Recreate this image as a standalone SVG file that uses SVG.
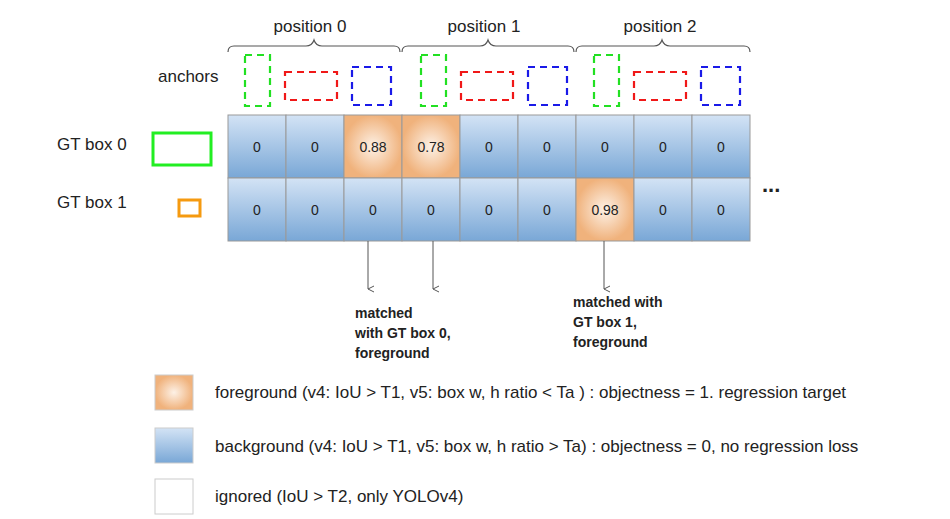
<svg xmlns="http://www.w3.org/2000/svg" width="950" height="519" viewBox="0 0 950 519">
<defs>
<linearGradient id="bg" x1="0" y1="0" x2="0" y2="1"><stop offset="0" stop-color="#d3e3f5"/><stop offset="1" stop-color="#79a7d6"/></linearGradient>
<radialGradient id="fg"><stop offset="0" stop-color="#fdf1e6"/><stop offset="1" stop-color="#f0b27c"/></radialGradient>
<marker id="ar" markerWidth="8" markerHeight="8" refX="4" refY="7" orient="auto" markerUnits="userSpaceOnUse"><path d="M1,1 L4,7 L7,1" fill="none" stroke="#555" stroke-width="1"/></marker>
</defs>
<style>
text{font-family:"Liberation Sans",Arial,sans-serif;fill:#222}
.t{font-size:17px}
.c{font-size:14px;text-anchor:middle}
.b{font-size:14px;font-weight:bold}
.cell{stroke:#999;stroke-width:1}
.bl{fill:url(#bg)}.or{fill:url(#fg)}
.br{fill:none;stroke:#555;stroke-width:1.2}
.a{fill:none;stroke-width:2.2;stroke-dasharray:7,5}
</style>
<g id="labels">
<text class="t" x="310" y="32" text-anchor="middle">position 0</text>
<text class="t" x="484" y="32" text-anchor="middle">position 1</text>
<text class="t" x="660" y="32" text-anchor="middle">position 2</text>
<text class="t" x="158" y="82">anchors</text>
<text class="t" x="57" y="150">GT box 0</text>
<text class="t" x="57" y="208">GT box 1</text>
<text x="762" y="192" font-size="22" font-weight="bold">...</text>
</g>
<g id="braces">
<path class="br" d="M228,52 Q228,46 234,46 L306,46 Q312,46 314,40 Q316,46 322,46 L394,46 Q400,46 400,52"/>
<path class="br" d="M402,52 Q402,46 408,46 L480,46 Q486,46 488,40 Q490,46 496,46 L568,46 Q574,46 574,52"/>
<path class="br" d="M576,52 Q576,46 582,46 L654,46 Q660,46 662,40 Q664,46 670,46 L744,46 Q750,46 750,52"/>
</g>
<g id="anchors">
<g><rect class="a" x="245" y="55" width="25" height="51" stroke="#22e022"/><rect class="a" x="285" y="72" width="52" height="28" stroke="#f01818"/><rect class="a" x="352" y="67" width="39" height="38" stroke="#1a1ae8"/></g>
<g transform="translate(176,0)"><rect class="a" x="245" y="55" width="25" height="51" stroke="#22e022"/><rect class="a" x="285" y="72" width="52" height="28" stroke="#f01818"/><rect class="a" x="352" y="67" width="39" height="38" stroke="#1a1ae8"/></g>
<g transform="translate(349,0)"><rect class="a" x="245" y="55" width="25" height="51" stroke="#22e022"/><rect class="a" x="285" y="72" width="52" height="28" stroke="#f01818"/><rect class="a" x="352" y="67" width="39" height="38" stroke="#1a1ae8"/></g>
</g>
<g id="gtboxes">
<rect x="153" y="133" width="58" height="32" fill="none" stroke="#22ee22" stroke-width="3"/>
<rect x="179" y="200" width="21" height="16" fill="none" stroke="#f59a10" stroke-width="3"/>
</g>
<g id="grid">
<rect class="cell bl" x="228" y="115" width="58" height="63"/><text class="c" x="257" y="152">0</text>
<rect class="cell bl" x="286" y="115" width="58" height="63"/><text class="c" x="315" y="152">0</text>
<rect class="cell or" x="344" y="115" width="58" height="63"/><text class="c" x="373" y="152">0.88</text>
<rect class="cell or" x="402" y="115" width="58" height="63"/><text class="c" x="431" y="152">0.78</text>
<rect class="cell bl" x="460" y="115" width="58" height="63"/><text class="c" x="489" y="152">0</text>
<rect class="cell bl" x="518" y="115" width="58" height="63"/><text class="c" x="547" y="152">0</text>
<rect class="cell bl" x="576" y="115" width="58" height="63"/><text class="c" x="605" y="152">0</text>
<rect class="cell bl" x="634" y="115" width="58" height="63"/><text class="c" x="663" y="152">0</text>
<rect class="cell bl" x="692" y="115" width="58" height="63"/><text class="c" x="721" y="152">0</text>
<rect class="cell bl" x="228" y="178" width="58" height="63"/><text class="c" x="257" y="215">0</text>
<rect class="cell bl" x="286" y="178" width="58" height="63"/><text class="c" x="315" y="215">0</text>
<rect class="cell bl" x="344" y="178" width="58" height="63"/><text class="c" x="373" y="215">0</text>
<rect class="cell bl" x="402" y="178" width="58" height="63"/><text class="c" x="431" y="215">0</text>
<rect class="cell bl" x="460" y="178" width="58" height="63"/><text class="c" x="489" y="215">0</text>
<rect class="cell bl" x="518" y="178" width="58" height="63"/><text class="c" x="547" y="215">0</text>
<rect class="cell or" x="576" y="178" width="58" height="63"/><text class="c" x="605" y="215">0.98</text>
<rect class="cell bl" x="634" y="178" width="58" height="63"/><text class="c" x="663" y="215">0</text>
<rect class="cell bl" x="692" y="178" width="58" height="63"/><text class="c" x="721" y="215">0</text>
</g>
<g id="connectors" stroke="#555" stroke-width="1">
<line x1="368" y1="241" x2="368" y2="289" marker-end="url(#ar)"/>
<line x1="433" y1="241" x2="433" y2="289" marker-end="url(#ar)"/>
<line x1="604" y1="241" x2="604" y2="289" marker-end="url(#ar)"/>
</g>
<g id="notes">
<text class="b" x="355" y="318">matched</text>
<text class="b" x="355" y="338">with GT box 0,</text>
<text class="b" x="355" y="358">foreground</text>
<text class="b" x="573" y="307">matched with</text>
<text class="b" x="573" y="327">GT box 1,</text>
<text class="b" x="573" y="347">foreground</text>
</g>
<g id="legend">
<rect x="155" y="375" width="38" height="35" fill="url(#fg)" stroke="#ccc"/>
<text class="t" x="215" y="398">foreground (v4: IoU &gt; T1, v5: box w, h ratio &lt; Ta ) : objectness = 1. regression target</text>
<rect x="155" y="428" width="38" height="35" fill="url(#bg)" stroke="#ccc"/>
<text class="t" x="215" y="452">background (v4: IoU &gt; T1, v5: box w, h ratio &gt; Ta)  : objectness = 0, no regression loss</text>
<rect x="155" y="479" width="38" height="35" fill="#fff" stroke="#ccc"/>
<text class="t" x="215" y="502">ignored (IoU &gt; T2, only YOLOv4)</text>
</g>
</svg>
